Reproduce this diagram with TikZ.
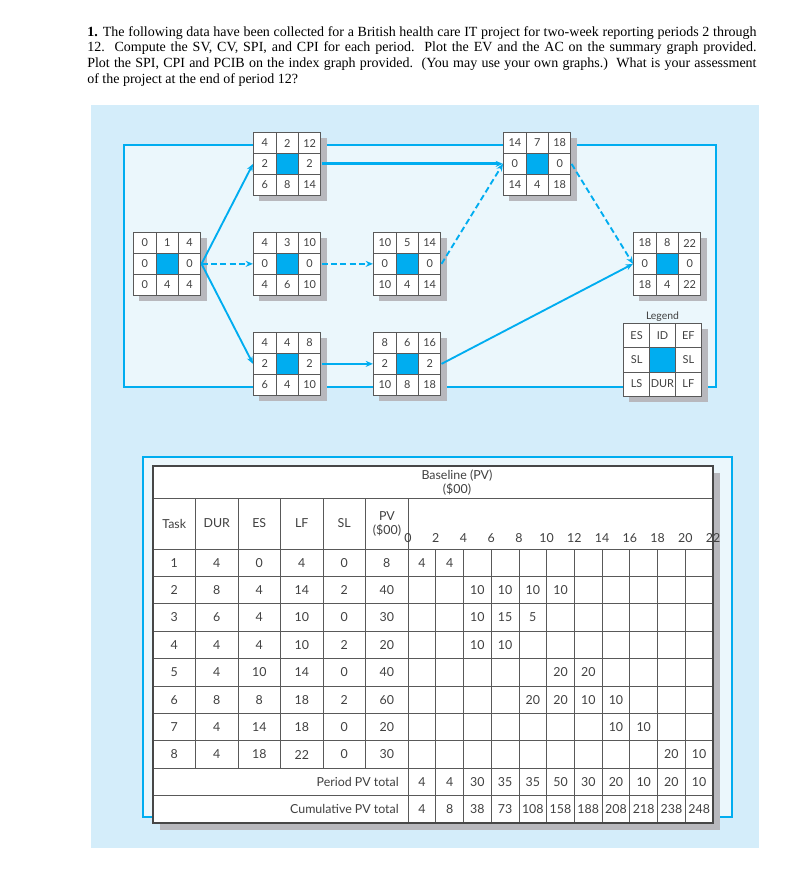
\documentclass[tikz,border=0pt]{standalone}
\usepackage{fontspec}
\setmainfont{Liberation Serif}
\newfontfamily\sansfam{Lato}
\usepackage{tikz}
\usetikzlibrary{arrows.meta, positioning, matrix, shadows}
\definecolor{panelblue}{rgb}{0.83,0.93,0.98}
\definecolor{framefill}{rgb}{0.92,0.97,0.99}
\definecolor{linkblue}{rgb}{0.0,0.68,0.94}
\definecolor{cellblue}{rgb}{0.0,0.68,0.94}
\definecolor{gridgray}{rgb}{0.35,0.35,0.35}
\definecolor{bordergray}{rgb}{0.28,0.28,0.28}
\definecolor{shadowgray}{rgb}{0.72,0.72,0.74}
\definecolor{textgray}{rgb}{0.25,0.25,0.25}

\begin{document}
\begin{tikzpicture}[
    x=0.75pt, y=-0.75pt,
    question/.style={anchor=north west, inner sep=0pt, text width=502pt, align=justify, font=\fontsize{10.5}{11.9}\selectfont},
    cell/.style={draw=gridgray, line width=0.6pt, fill=white, minimum width=16.8pt, minimum height=15.6pt, inner sep=0pt, anchor=center, text=textgray, font=\sansfam\fontsize{8.2}{9}\selectfont},
    hub/.style={fill=cellblue},
    actbox/.style={matrix of nodes, nodes in empty cells, anchor=north west, inner sep=0pt, fill=white, column sep=-0.6pt, row sep=-0.6pt, nodes={cell}, general shadow={fill=shadowgray, shadow xshift=4.5pt, shadow yshift=-4.5pt}},
    legendbox/.style={actbox, nodes={minimum width=19.4pt, minimum height=18.1pt}},
    link/.style={draw=linkblue, line width=1.4pt, -{Stealth[length=5.5pt, width=4.5pt]}},
    critical/.style={link, dash pattern=on 4.5pt off 2.5pt},
    gridline/.style={draw=gridgray, line width=0.6pt},
    tableborder/.style={draw=bordergray, line width=1.3pt},
    tabtext/.style={inner sep=0pt, align=center, text=textgray, font=\sansfam\fontsize{9.3}{10.5}\selectfont},
]
\useasboundingbox (0,0) rectangle (812,893);

% === Question ===
\node[question] (question) at (87,26) {\textbf{1.} The following data have been collected for a British health care IT project for two-week reporting periods 2 through\linebreak
12.\ \ Compute the SV, CV, SPI, and CPI for each period.\ \ Plot the EV and the AC on the summary graph provided.\linebreak
Plot the SPI, CPI and PCIB on the index graph provided.\ \ (You may use your own graphs.)\ \ What is your assessment\linebreak
of the project at the end of period 12?};

% === Panels ===
\fill[panelblue] (91,105) rectangle (759,848);
\draw[linkblue, line width=1.4pt, fill=framefill] (124,145) rectangle (716,387);
\draw[linkblue, line width=1.2pt, fill=framefill] (143,457) rectangle (732,817);

% === Network (AON) ===
\matrix (t1) [actbox] at (133,232) {0 & 1 & 4 \\ 0 & |[hub]| & 0 \\ 0 & 4 & 4 \\};
\matrix (t2) [actbox] at (253,132) {4 & 2 & 12 \\ 2 & |[hub]| & 2 \\ 6 & 8 & 14 \\};
\matrix (t3) [actbox] at (253,232) {4 & 3 & 10 \\ 0 & |[hub]| & 0 \\ 4 & 6 & 10 \\};
\matrix (t4) [actbox] at (253,332) {4 & 4 & 8 \\ 2 & |[hub]| & 2 \\ 6 & 4 & 10 \\};
\matrix (t5) [actbox] at (373,232) {10 & 5 & 14 \\ 0 & |[hub]| & 0 \\ 10 & 4 & 14 \\};
\matrix (t6) [actbox] at (373,332) {8 & 6 & 16 \\ 2 & |[hub]| & 2 \\ 10 & 8 & 18 \\};
\matrix (t7) [actbox] at (503,132) {14 & 7 & 18 \\ 0 & |[hub]| & 0 \\ 14 & 4 & 18 \\};
\matrix (t8) [actbox] at (633,232) {18 & 8 & 22 \\ 0 & |[hub]| & 0 \\ 18 & 4 & 22 \\};

% === Legend ===
\matrix (legend) [legendbox] at (623,323) {ES & ID & EF \\ SL & |[hub]| & SL \\ LS & DUR & LF \\};
\node[above=1pt of legend, tabtext, font=\sansfam\fontsize{7.8}{8}\selectfont] (legend-title) {Legend};

% === Arrows ===
\draw[link] (t1.east) -- (t2.west);
\draw[critical] (t1.east) -- (t3.west);
\draw[link] (t1.east) -- (t4.west);
\draw[critical] (t3.east) -- (t5.west);
\draw[link] (t4.east) -- (t6.west);
\draw[link, line width=2.1pt] (t2.east) -- (t7.west);
\draw[critical] (t5.east) -- (t7.west);
\draw[critical] (t7.east) -- (t8.west);
\draw[link] (t6.east) -- (t8.west);

% === Baseline table ===
\def\rowh{27.4}
\def\colw{27.73}
\fill[shadowgray] (160,473) rectangle (720,830);
\fill[white] (153,466) rectangle (713,823);
\draw[gridline] (153,498) -- (713,498);
\foreach \i in {0,...,9}
    \draw[gridline] (153,{549+\i*\rowh}) -- (713,{549+\i*\rowh});
\foreach \x in {195.5,238,280.5,323,365.5}
    \draw[gridline] (\x,498) -- (\x,768.2);
\draw[gridline] (408,498) -- (408,823);
\foreach \k in {1,...,10}
    \draw[gridline] ({408+\k*\colw},549) -- ({408+\k*\colw},823);
\draw[tableborder] (153,466) rectangle (713,823);

% header
\node[tabtext] (title) at (457,483) {Baseline (PV)\\(\$00)};
\foreach \lbl [count=\c] in {Task,DUR,ES,LF,SL}
    \node[tabtext] (head-\c) at ({153+(\c-0.5)*42.5},523.5) {\lbl};
\node[tabtext] (head-6) at (387,524) {PV\\(\$00)};
\foreach \w [count=\k from 0] in {0,2,...,22}
    \node[tabtext] (tick-\k) at ({408+\k*\colw},538) {\w};

% task rows
\foreach \dur/\es/\lf/\sl/\pv [count=\r] in {4/0/4/0/8, 8/4/14/2/40, 6/4/10/0/30, 4/4/10/2/20, 4/10/14/0/40, 8/8/18/2/60, 4/14/18/0/20, 4/18/22/0/30} {
    \node[tabtext] (task-\r) at (174.25,{549+(\r-0.5)*\rowh}) {\r};
    \node[tabtext] (dur-\r) at (216.75,{549+(\r-0.5)*\rowh}) {\dur};
    \node[tabtext] (es-\r) at (259.25,{549+(\r-0.5)*\rowh}) {\es};
    \node[tabtext] (lf-\r) at (301.75,{549+(\r-0.5)*\rowh}) {\lf};
    \node[tabtext] (sl-\r) at (344.25,{549+(\r-0.5)*\rowh}) {\sl};
    \node[tabtext] (pv-\r) at (386.75,{549+(\r-0.5)*\rowh}) {\pv};
}
\foreach \r/\c/\v in {1/1/4, 1/2/4, 2/3/10, 2/4/10, 2/5/10, 2/6/10, 3/3/10, 3/4/15, 3/5/5, 4/3/10, 4/4/10, 5/6/20, 5/7/20, 6/5/20, 6/6/20, 6/7/10, 6/8/10, 7/8/10, 7/9/10, 8/10/20, 8/11/10}
    \node[tabtext] (base-\r-\c) at ({408+(\c-0.5)*\colw},{549+(\r-0.5)*\rowh}) {\v};

% totals
\node[tabtext, anchor=east] (period-label) at (399,{549+8.5*\rowh}) {Period PV total};
\node[tabtext, anchor=east] (cum-label) at (399,{549+9.5*\rowh}) {Cumulative PV total};
\foreach \v [count=\c] in {4,4,30,35,35,50,30,20,10,20,10}
    \node[tabtext] (period-\c) at ({408+(\c-0.5)*\colw},{549+8.5*\rowh}) {\v};
\foreach \v [count=\c] in {4,8,38,73,108,158,188,208,218,238,248}
    \node[tabtext] (cum-\c) at ({408+(\c-0.5)*\colw},{549+9.5*\rowh}) {\v};

\end{tikzpicture}
\end{document}
